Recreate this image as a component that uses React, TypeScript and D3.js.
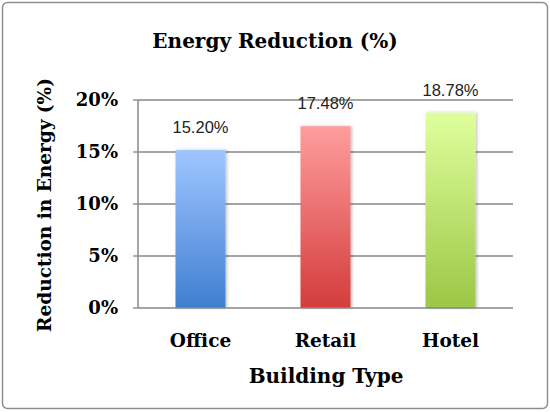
import React from 'react';
import * as d3 from 'd3';

const categories = ['Office', 'Retail', 'Hotel'];
const reductions = [15.2, 17.48, 18.78];
const yTicks = [0, 5, 10, 15, 20];
const barTopColors = ['#a0c6ff', '#ff9d9d', '#dfff9c'];
const barBottomColors = ['#3f7fd2', '#d43c3c', '#9cc646'];

const width = 550;
const height = 412;
const plot = { left: 138, right: 513, top: 100, bottom: 308 };

const serif = '"DejaVu Serif", serif';
const sans = '"Liberation Sans", Arial, sans-serif';

const App: React.FC = () => {
  const x = d3.scaleBand<string>()
    .domain(categories)
    .range([plot.left, plot.right])
    .paddingInner(0.6)
    .paddingOuter(0.3);

  const y = d3.scaleLinear()
    .domain([0, 20])
    .range([plot.bottom, plot.top]);

  return (
    <svg
      width={width}
      height={height}
      style={{ position: 'absolute', left: 0, top: 0, background: '#fff' }}
    >
      <defs>
        {categories.map((c, i) => (
          <linearGradient key={c} id={`grad-${i}`} x1="0" y1="0" x2="0" y2="1">
            <stop offset="0%" stopColor={barTopColors[i]} />
            <stop offset="100%" stopColor={barBottomColors[i]} />
          </linearGradient>
        ))}
        <filter id="shadow" x="-20%" y="-10%" width="140%" height="120%">
          <feDropShadow dx="1.5" dy="0" stdDeviation="1.5" floodColor="#000" floodOpacity="0.25" />
        </filter>
      </defs>

      {/* chart border */}
      <rect x={2.5} y={2.5} width={545} height={406} rx={5} fill="#fff" stroke="#8e8e8e" strokeWidth={1.5} />

      {/* title */}
      <text x={275} y={48} textAnchor="middle" fontFamily={serif} fontWeight="bold" fontSize={20} fill="#000">
        Energy Reduction (%)
      </text>

      {/* gridlines */}
      {yTicks.filter(t => t > 0).map(t => (
        <line key={t} x1={plot.left} x2={plot.right} y1={y(t)} y2={y(t)} stroke="#878787" strokeWidth={1.3} />
      ))}

      {/* bars */}
      {categories.map((c, i) => (
        <rect
          key={c}
          x={x(c)}
          y={y(reductions[i])}
          width={x.bandwidth()}
          height={y(0) - y(reductions[i])}
          fill={`url(#grad-${i})`}
          filter="url(#shadow)"
        />
      ))}

      {/* axes */}
      <line x1={plot.left} x2={plot.right} y1={y(0)} y2={y(0)} stroke="#878787" strokeWidth={1.5} />
      <line x1={plot.left} x2={plot.left} y1={y(20)} y2={y(0)} stroke="#878787" strokeWidth={1.5} />
      {yTicks.map(t => (
        <g key={t}>
          <line x1={plot.left - 5} x2={plot.left} y1={y(t)} y2={y(t)} stroke="#878787" strokeWidth={1.3} />
          <text x={118} y={y(t) + 6} textAnchor="end" fontFamily={serif} fontWeight="bold" fontSize={18} fill="#000">
            {`${t}%`}
          </text>
        </g>
      ))}

      {/* value labels */}
      {categories.map((c, i) => (
        <text
          key={c}
          x={(x(c) ?? 0) + x.bandwidth() / 2}
          y={y(reductions[i]) - 17}
          textAnchor="middle"
          fontFamily={sans}
          fontSize={16.5}
          fill="#222"
        >
          {`${reductions[i].toFixed(2)}%`}
        </text>
      ))}

      {/* category labels */}
      {categories.map(c => (
        <text
          key={c}
          x={(x(c) ?? 0) + x.bandwidth() / 2}
          y={347}
          textAnchor="middle"
          fontFamily={serif}
          fontWeight="bold"
          fontSize={18.5}
          fill="#000"
        >
          {c}
        </text>
      ))}

      {/* axis titles */}
      <text x={326} y={383} textAnchor="middle" fontFamily={serif} fontWeight="bold" fontSize={20} fill="#000">
        Building Type
      </text>
      <text
        transform={`translate(51,205) rotate(-90)`}
        textAnchor="middle"
        fontFamily={serif}
        fontWeight="bold"
        fontSize={18.5}
        fill="#000"
      >
        Reduction in Energy (%)
      </text>
    </svg>
  );
};

export default App;
